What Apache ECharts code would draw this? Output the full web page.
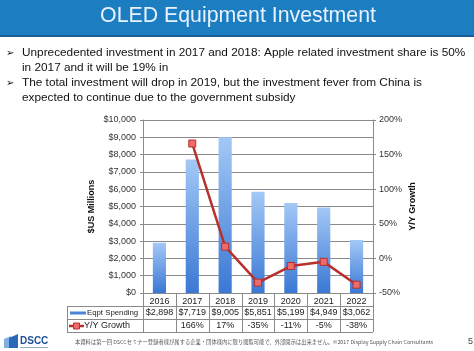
<!DOCTYPE html>
<html>
<head>
<meta charset="utf-8">
<script src="https://cdn.jsdelivr.net/npm/echarts@6/dist/echarts.min.js"></script>
<style>
  html, body { margin: 0; padding: 0; background: #fff; }
  #chart { width: 474px; height: 351px; }
</style>
</head>
<body>
<div id="chart"></div>
<script>
// data
var years = ['2016', '2017', '2018', '2019', '2020', '2021', '2022'];
var spending = [2898, 7719, 9005, 5851, 5199, 4949, 3062];
var growth = [null, 166, 17, -35, -11, -5, -38];
var leftTicks = [0, 10000, 1000];
var rightTicks = [-50, 200, 50];

var FONT = 'Arial, "Liberation Sans", sans-serif';
var GRAY = '#8a8a8a';

function money(v) {
    return '$' + v.toLocaleString('en-US');
}

var myChart = echarts.init(document.getElementById('chart'));
var option = {
    animation: false,
    backgroundColor: '#ffffff',
    grid: { left: 143, right: 101, top: 120, bottom: 58 },
    xAxis: {
        type: 'category',
        data: years,
        axisLine: { lineStyle: { color: GRAY } },
        axisTick: { show: false },
        axisLabel: { fontFamily: FONT, fontSize: 9, color: '#222', margin: 4 }
    },
    yAxis: [
        {
            type: 'value',
            min: leftTicks[0], max: leftTicks[1], interval: leftTicks[2],
            name: '$US Millions',
            nameLocation: 'middle',
            nameGap: 47,
            nameTextStyle: { fontFamily: FONT, fontSize: 9, fontWeight: 'bold', color: '#111' },
            axisLine: { show: true, lineStyle: { color: GRAY } },
            axisTick: { show: true, length: 3, lineStyle: { color: GRAY } },
            axisLabel: { fontFamily: FONT, fontSize: 9, color: '#333', margin: 7, formatter: money },
            splitLine: { lineStyle: { color: GRAY, width: 1 } }
        },
        {
            type: 'value',
            min: rightTicks[0], max: rightTicks[1], interval: rightTicks[2],
            name: 'Y/Y Growth',
            nameLocation: 'middle',
            nameGap: 35,
            nameRotate: 90,
            nameTextStyle: { fontFamily: FONT, fontSize: 9, fontWeight: 'bold', color: '#111' },
            axisLine: { show: true, lineStyle: { color: GRAY } },
            axisTick: { show: true, length: 3, lineStyle: { color: GRAY } },
            axisLabel: { fontFamily: FONT, fontSize: 9, color: '#333', margin: 6, formatter: '{value}%' },
            splitLine: { show: false }
        }
    ],
    series: [
        {
            name: 'Eqpt Spending',
            type: 'bar',
            barWidth: '40%',
            itemStyle: {
                color: new echarts.graphic.LinearGradient(0, 0, 0, 1, [
                    { offset: 0, color: '#a3c8f6' },
                    { offset: 1, color: '#3a78d4' }
                ])
            },
            data: spending
        },
        {
            name: 'Y/Y Growth',
            type: 'line',
            yAxisIndex: 1,
            symbol: 'rect',
            symbolSize: 7,
            lineStyle: { color: '#b8302c', width: 2.5 },
            itemStyle: { color: '#ee6b6b', borderColor: '#b8302c', borderWidth: 1 },
            data: growth
        }
    ]
};
myChart.setOption(option);

// header, bullets, data table and footer
var g = [];
g.push({ type: 'rect', shape: { x: 0, y: 0, width: 474, height: 36 }, style: { fill: '#1c7dc1' }, z: 10 });
g.push({ type: 'rect', shape: { x: 0, y: 35, width: 474, height: 2 }, style: { fill: '#155f96' }, z: 10 });
g.push({ type: 'text', x: 238, y: 16, z: 11, style: {
    text: 'OLED Equipment Investment', fontFamily: FONT, fontSize: 21.3,
    fill: '#e6f3ff', align: 'center', verticalAlign: 'middle' } });

var bullets = [
    ['Unprecedented investment in 2017 and 2018: Apple related investment share is 50%', 53, true],
    ['in 2017 and it will be 19% in', 68, false],
    ['The total investment will drop in 2019, but the investment fever from China is', 83, true],
    ['expected to continue due to the government subsidy', 97.5, false]
];
bullets.forEach(function (b) {
    if (b[2]) {
        g.push({ type: 'text', x: 6, y: b[1], z: 11, style: {
            text: '\u27a2', fontFamily: '"DejaVu Sans"', fontSize: 10, fill: '#111', verticalAlign: 'middle' } });
    }
    g.push({ type: 'text', x: 22, y: b[1], z: 11, style: {
        text: b[0], fontFamily: FONT, fontSize: 11.8, fill: '#111', verticalAlign: 'middle' } });
});

var x0 = myChart.convertToPixel({ xAxisIndex: 0 }, 0);
var x1 = myChart.convertToPixel({ xAxisIndex: 0 }, 1);
var band = x1 - x0;
var gridLeft = x0 - band / 2;
var gridRight = gridLeft + band * years.length;
var base = myChart.convertToPixel({ yAxisIndex: 0 }, 0);
var rowH = 13;
var tableLeft = 67;
var lineStyle = { stroke: GRAY, lineWidth: 1 };

for (var r = 1; r <= 3; r++) {
    var yy = Math.round(base + rowH * r) + 0.5;
    g.push({ type: 'line', shape: { x1: tableLeft, y1: yy, x2: gridRight, y2: yy }, style: lineStyle });
}
g.push({ type: 'line', shape: { x1: tableLeft + 0.5, y1: base + rowH, x2: tableLeft + 0.5, y2: base + rowH * 3 }, style: lineStyle });
for (var i = 0; i <= years.length; i++) {
    var xx = Math.round(gridLeft + band * i) + 0.5;
    g.push({ type: 'line', shape: { x1: xx, y1: base, x2: xx, y2: base + rowH * 3 }, style: lineStyle });
}
years.forEach(function (y, i) {
    var cx = myChart.convertToPixel({ xAxisIndex: 0 }, i);
    g.push({ type: 'text', x: cx, y: base + rowH * 1.5 + 0.5, style: {
        text: money(spending[i]), fontFamily: FONT, fontSize: 9, fill: '#222', align: 'center', verticalAlign: 'middle' } });
    if (growth[i] !== null) {
        g.push({ type: 'text', x: cx, y: base + rowH * 2.5 + 0.5, style: {
            text: growth[i] + '%', fontFamily: FONT, fontSize: 9, fill: '#222', align: 'center', verticalAlign: 'middle' } });
    }
});
// legend keys inside the table
var ly1 = base + rowH * 1.5 + 0.5;
var ly2 = base + rowH * 2.5 + 0.5;
g.push({ type: 'rect', shape: { x: 70, y: ly1 - 1.5, width: 16, height: 3 }, style: { fill: '#4a86d8' } });
g.push({ type: 'text', x: 87, y: ly1, style: {
    text: 'Eqpt Spending', fontFamily: FONT, fontSize: 7.8, fill: '#222', align: 'left', verticalAlign: 'middle' } });
g.push({ type: 'line', shape: { x1: 69, y1: ly2, x2: 84, y2: ly2 }, style: { stroke: '#b8302c', lineWidth: 2.5 } });
g.push({ type: 'rect', shape: { x: 73.5, y: ly2 - 3, width: 6, height: 6 }, style: { fill: '#ee6b6b', stroke: '#b8302c', lineWidth: 1 } });
g.push({ type: 'text', x: 84, y: ly2, style: {
    text: 'Y/Y Growth', fontFamily: FONT, fontSize: 9, fill: '#222', align: 'left', verticalAlign: 'middle' } });

// footer
g.push({ type: 'text', x: 75, y: 342, style: {
    text: '本資料は第一回 DSCCセミナー登録者様が属する企業・団体様内に限り閲覧可能で、外部開示は出来ません。©2017 Display Supply Chain Consultants',
    fontFamily: '"Noto Sans CJK JP"', fontSize: 5.3, fill: '#555', verticalAlign: 'middle' } });
g.push({ type: 'text', x: 468, y: 342, style: {
    text: '5', fontFamily: FONT, fontSize: 9, fill: '#444', verticalAlign: 'middle' } });
// DSCC logo
g.push({ type: 'polygon', shape: { points: [[4, 339], [11, 336], [11, 348], [4, 348]] }, style: { fill: '#7fb0e0' } });
g.push({ type: 'polygon', shape: { points: [[9, 338], [18, 334], [18, 348], [9, 348]] }, style: { fill: '#2a67b8' } });
g.push({ type: 'text', x: 20, y: 341, style: {
    text: 'DSCC', fontFamily: FONT, fontSize: 10, fontWeight: 'bold', fill: '#1f4f96', verticalAlign: 'middle' } });
g.push({ type: 'rect', shape: { x: 20, y: 347, width: 28, height: 1 }, style: { fill: '#9ab' } });

myChart.setOption({ graphic: g });
</script>
</body>
</html>
